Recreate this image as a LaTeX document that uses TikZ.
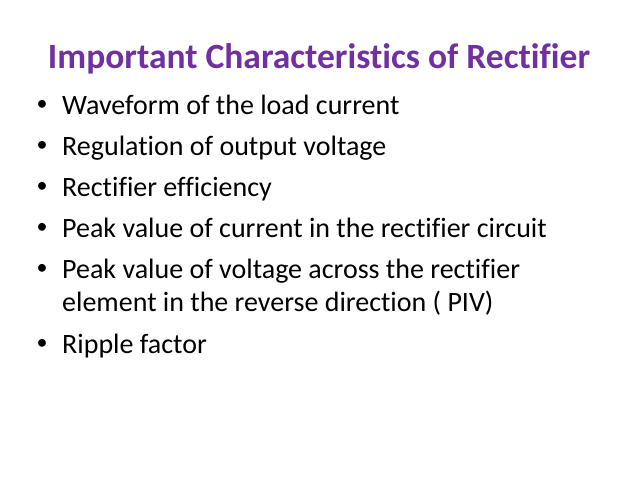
\documentclass[tikz,border=0pt]{standalone}
\usepackage{fontspec}
\setmainfont{Carlito}[Ligatures=NoCommon]
\definecolor{ttl}{HTML}{7030A0}
\begin{document}
\begin{tikzpicture}[x=1pt,y=-1pt,
  item/.style={anchor=mid west,font=\fontsize{28}{33}\selectfont,inner sep=0pt,align=left},
  dot/.style={anchor=center,font=\fontsize{22}{26}\selectfont,inner sep=0pt}]
\fill[white] (0,0) rectangle (638,478);
\node[font=\bfseries\fontsize{35.5}{40}\selectfont,text=ttl,inner sep=0pt,anchor=mid] (t) at (319,66) {Important Characteristics of Rectifier};
\foreach \y/\txt/\n in {112/Waveform of the load current/a,153/Regulation of output voltage/b,194/Rectifier efficiency/c,235/Peak value of current in the rectifier circuit/d,276/Peak value of voltage across the rectifier/e,351/Ripple factor/g}{
  \node[dot] (b\n) at (42,\y-7) {•};
  \node[item] (i\n) at (62,\y) {\txt};
}
\node[item] (if) at (62,309) {element in the reverse direction ( PIV)};
\end{tikzpicture}
\end{document}
